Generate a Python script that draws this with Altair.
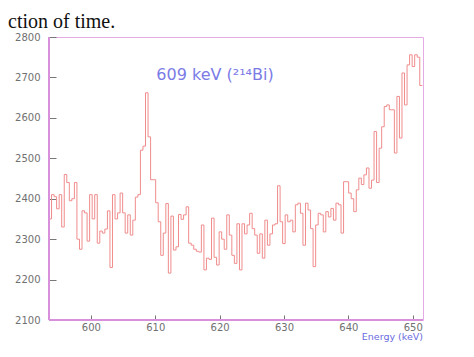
import altair as alt
import pandas as pd

# Counts per energy bin
counts = [
    2350, 2410, 2405, 2375, 2410, 2330, 2460, 2440, 2395, 2400, 2440, 2300, 2275, 2370,
    2365, 2295, 2410, 2350, 2410, 2290, 2320, 2315, 2325, 2370, 2230, 2410, 2350, 2365,
    2414, 2365, 2315, 2360, 2310, 2347, 2404, 2410, 2520, 2530, 2662, 2553, 2447, 2447,
    2390, 2343, 2260, 2315, 2388, 2216, 2357, 2273, 2281, 2361, 2349, 2360, 2380, 2290, 2285,
    2275, 2270, 2268, 2335, 2224, 2253, 2250, 2352, 2255, 2236, 2318, 2300, 2275, 2360,
    2310, 2260, 2240, 2338, 2224, 2338, 2313, 2335, 2364, 2326, 2310, 2265, 2313, 2253, 2347,
    2285, 2313, 2335, 2338, 2432, 2343, 2289, 2360, 2343, 2347, 2318, 2385, 2389, 2364,
    2285, 2389, 2372, 2326, 2232, 2335, 2364, 2360, 2318, 2368, 2355, 2376, 2347, 2389, 2385,
    2315, 2442, 2442, 2414, 2400, 2368, 2422, 2451, 2435, 2459, 2476, 2426, 2446, 2566,
    2440, 2525, 2578, 2628, 2632, 2620, 2620, 2513, 2653, 2550, 2711, 2632, 2731, 2756,
    2727, 2756, 2750, 2680,
]
bin_start = 593.5
bin_width = 0.3945
x_domain = [593.5, 651.6]
y_domain = [2100, 2800]
x_ticks = [600, 610, 620, 630, 640, 650]
y_ticks = [2100, 2200, 2300, 2400, 2500, 2600, 2700, 2800]
annotation = "609 keV (²¹⁴Bi)"
x_title = "Energy (keV)"
caption = "ction of time."

edges = [bin_start + i * bin_width for i in range(len(counts) + 1)]
df = pd.DataFrame({"energy": edges, "counts": counts + [counts[-1]]})

W, H = 374, 283
one = pd.DataFrame({"k": [0]})

line = alt.Chart(df).mark_line(
    interpolate="step-after", color="#f08c8c", strokeWidth=1, clip=True
).encode(
    x=alt.X("energy:Q", scale=alt.Scale(domain=x_domain, nice=False, zero=False),
            axis=alt.Axis(values=x_ticks, offset=-5, tickSize=5, domain=False, grid=False,
                          title=None, labelFontSize=10, labelColor="#707070",
                          tickColor="#777777", labelPadding=2, format="d")),
    y=alt.Y("counts:Q", scale=alt.Scale(domain=y_domain, nice=False, zero=False),
            axis=alt.Axis(values=y_ticks, offset=-7, tickSize=7, domain=False, grid=False,
                          title=None, labelFontSize=10, labelColor="#707070",
                          tickColor="#777777", labelPadding=9, format="d")),
)

left_rule = alt.Chart(one).mark_rule(color="#d890dc", strokeWidth=2).encode(
    x=alt.value(0), y=alt.value(0), y2=alt.value(H))
bottom_rule = alt.Chart(one).mark_rule(color="#d890dc", strokeWidth=2).encode(
    x=alt.value(0), x2=alt.value(W), y=alt.value(H))

ann = alt.Chart(pd.DataFrame({"t": [annotation]})).mark_text(
    font="DejaVu Sans", fontSize=16, color="#7b7be6", align="center", baseline="alphabetic"
).encode(text="t:N", x=alt.value(166), y=alt.value(43))

xlab = alt.Chart(pd.DataFrame({"t": [x_title]})).mark_text(
    font="DejaVu Sans", fontSize=9.5, color="#6a6ae0", align="right", baseline="alphabetic"
).encode(text="t:N", x=alt.value(W), y=alt.value(303))

cap = alt.Chart(pd.DataFrame({"t": [caption]})).mark_text(
    font="Liberation Serif", fontSize=20, color="#111111", align="left", baseline="alphabetic"
).encode(text="t:N", x=alt.value(-41), y=alt.value(-9))

chart = alt.layer(line, left_rule, bottom_rule, ann, xlab, cap).properties(
    width=W, height=H,
    padding={"left": 41, "top": 29, "right": 30, "bottom": 25},
    autosize=alt.AutoSizeParams(type="none"),
).configure_view(stroke="#e6aae6", strokeWidth=1).configure_axis(labelFont="DejaVu Sans")

chart.save("out.html", embed_options={"renderer": "svg", "actions": False})
